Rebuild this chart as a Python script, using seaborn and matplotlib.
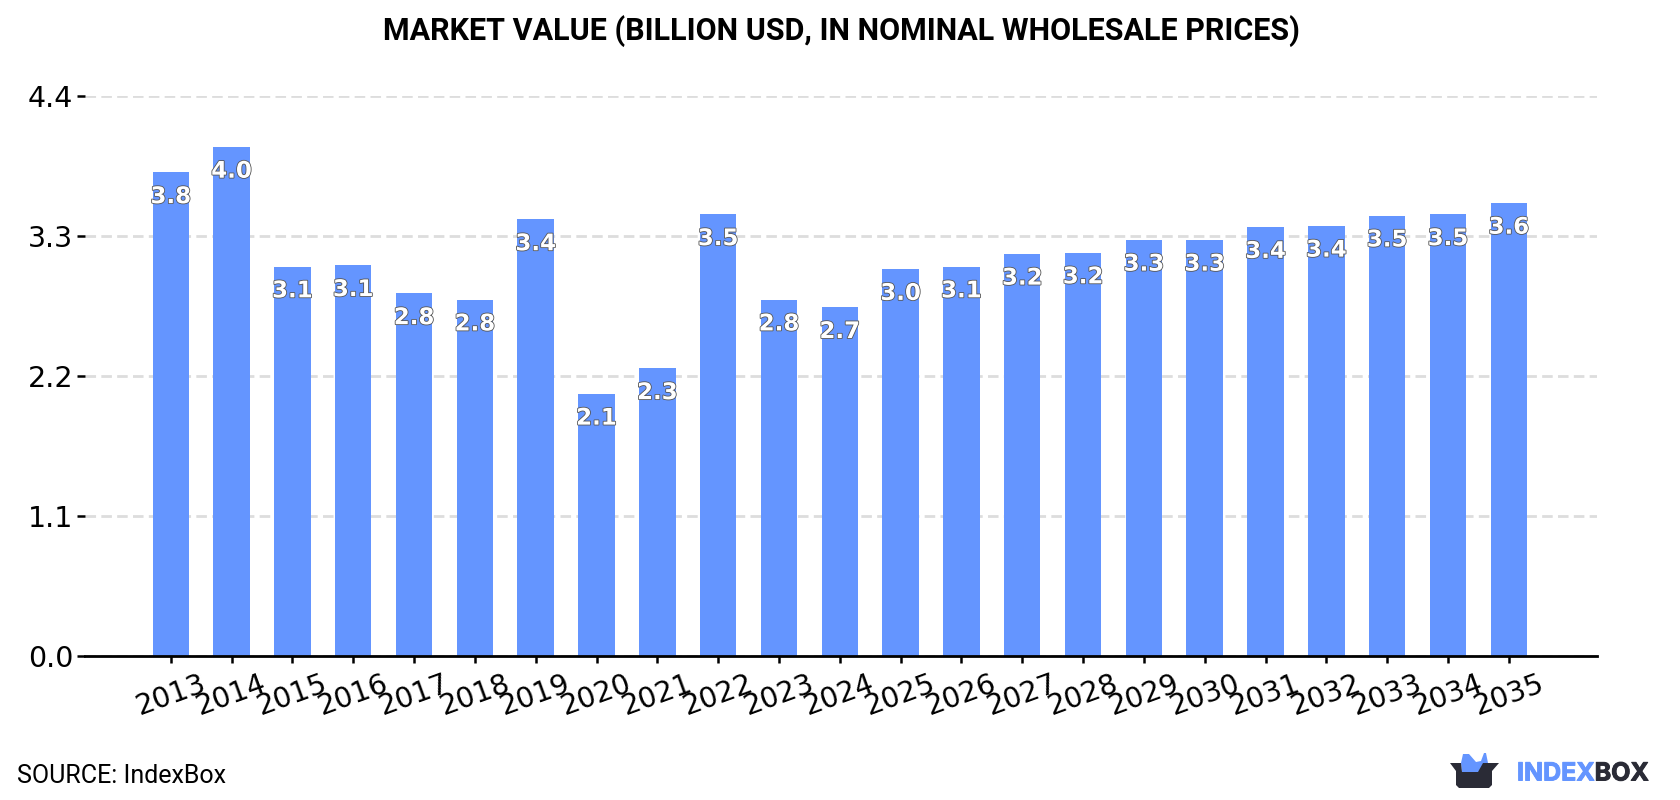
import matplotlib
matplotlib.use("Agg")
import matplotlib.pyplot as plt
import matplotlib.patheffects as pe
from matplotlib.patches import Polygon
import pandas as pd
import seaborn as sns

years = [2013, 2014, 2015, 2016, 2017, 2018, 2019, 2020, 2021, 2022, 2023, 2024,
         2025, 2026, 2027, 2028, 2029, 2030, 2031, 2032, 2033, 2034, 2035]
values = [3.80, 4.00, 3.06, 3.07, 2.849, 2.80, 3.43, 2.06, 2.26, 3.47, 2.80, 2.74,
          3.04, 3.06, 3.16, 3.17, 3.27, 3.27, 3.37, 3.38, 3.46, 3.47, 3.56]
y_ticks = [0.0, 1.1, 2.2, 3.3, 4.4]

BAR = "#6495FF"
DARK = "#2A2B36"
W, H = 1680, 800

sns.set_theme(style="white")
plt.rcParams["font.family"] = ["DejaVu Sans"]

fig = plt.figure(figsize=(W / 100, H / 100), dpi=100, facecolor="white")
ax = fig.add_axes([85 / W, 1 - 656 / H, (1597 - 85) / W, (656 - 96) / H])

df = pd.DataFrame({"year": [str(y) for y in years], "value": values})
sns.barplot(data=df, x="year", y="value", color=BAR, saturation=1, width=0.6,
            linewidth=0, edgecolor="none", ax=ax, zorder=3)

ax.set_xlim(-1.41, 23.45)
ax.set_ylim(0, 4.4)
ax.set_xlabel("")
ax.set_ylabel("")
ax.set_yticks(y_ticks, [f"{t:.1f}" for t in y_ticks])
ax.tick_params(axis="y", left=True, labelsize=20.5, length=5.5, width=1.8,
               color="black", labelcolor="black", pad=3)
ax.tick_params(axis="x", bottom=True, labelsize=20.5, length=5, width=1.8,
               color="black", labelcolor="black", pad=5, labelrotation=20)

for side in ("top", "left", "right"):
    ax.spines[side].set_visible(False)
ax.spines["bottom"].set_linewidth(2)
ax.spines["bottom"].set_color("black")
ax.spines["bottom"].set_zorder(6)

ax.yaxis.grid(True, color="#DDDDDD", linewidth=2, linestyle=(0, (3.8, 1.9)), zorder=1)
ax.xaxis.grid(False)
ax.set_axisbelow(True)

# Value labels sit just below each bar top, white with a thin grey outline
outline = [pe.withStroke(linewidth=1.2, foreground="#555555")]
for i, v in enumerate(values):
    ax.annotate(f"{v:.1f}", (i, v), xytext=(0, -17.5), textcoords="offset points",
                ha="center", va="center", fontsize=16.5, fontweight="bold",
                color="white", path_effects=outline, zorder=5)

fig.text(0.5 * (85 + 1597) / W, 1 - 31 / H, "MARKET VALUE (BILLION USD, IN NOMINAL WHOLESALE PRICES)",
         ha="center", va="center", fontsize=22, fontweight="bold", family="Roboto", color="black")
fig.text(17 / W, 1 - 776 / H, "SOURCE: IndexBox", ha="left", va="center",
         fontsize=18, family="Roboto", color="black")

# Brand mark in pixel space, bottom right
logo = fig.add_axes([0, 0, 1, 1], facecolor="none")
logo.set_xlim(0, W)
logo.set_ylim(H, 0)
logo.axis("off")
logo.add_patch(Polygon([(1461, 763), (1463, 754), (1469, 754), (1476, 762), (1481, 761),
                        (1484, 753), (1486, 753), (1488, 763), (1482, 772), (1462, 772)],
                       closed=True, color=BAR, lw=0))
logo.add_patch(Polygon([(1450, 763), (1461, 763), (1462, 772), (1478, 772), (1483, 763),
                        (1499, 763), (1492, 771), (1492, 785), (1489, 788), (1459, 788),
                        (1456, 785), (1456, 771)],
                       closed=True, color=DARK, lw=0))
logo.text(1517, 774, "INDEX", ha="left", va="center", fontsize=18, fontweight="bold",
          family="Inter", color=BAR,
          path_effects=[pe.withStroke(linewidth=0.7, foreground=BAR)])
logo.text(1649, 774, "BOX", ha="right", va="center", fontsize=18, fontweight="bold",
          family="Inter", color=DARK,
          path_effects=[pe.withStroke(linewidth=0.7, foreground=DARK)])

fig.savefig("out.png", dpi=100, facecolor="white")
